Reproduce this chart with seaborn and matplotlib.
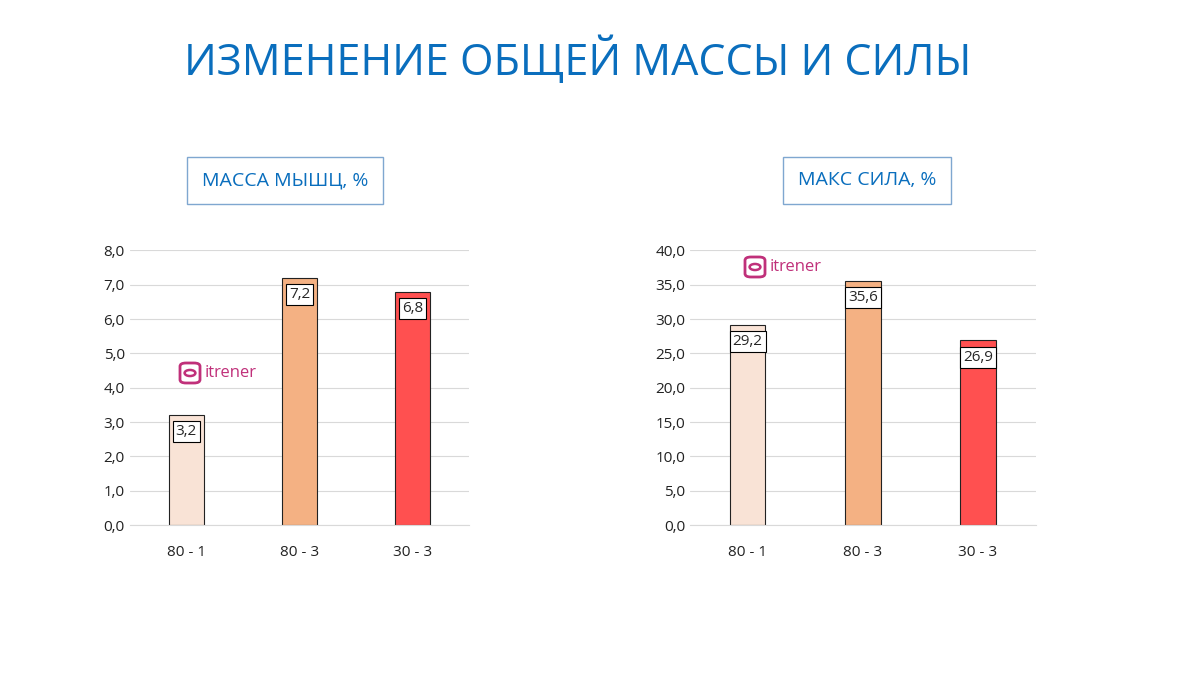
import matplotlib
matplotlib.use("Agg")
import matplotlib.pyplot as plt
import seaborn as sns
import pandas as pd
from matplotlib.ticker import FuncFormatter
from matplotlib.patches import FancyBboxPatch, Circle

groups = ["80 - 1", "80 - 3", "30 - 3"]
mass_values = [3.2, 7.2, 6.8]
strength_values = [29.2, 35.6, 26.9]
colors = ["#F9E3D6", "#F4B183", "#FF5050"]

TITLE = "ИЗМЕНЕНИЕ ОБЩЕЙ МАССЫ И СИЛЫ"
BLUE = "#0A6EBD"

sns.set_style("white")
plt.rcParams["font.family"] = "Open Sans"

fig = plt.figure(figsize=(12, 6.75), dpi=100)
fig.text(0.481, 0.908, TITLE, ha="center", va="center", fontsize=31, color=BLUE)

comma = FuncFormatter(lambda v, _: f"{v:.1f}".replace(".", ","))


def insta(x_px, y_px):
    # small instagram-like icon drawn as shapes, then the handle text
    w, h = 20 / 1200, 20 / 675
    x0, y0 = x_px / 1200, 1 - y_px / 675
    fig.patches.append(FancyBboxPatch((x0, y0 - h / 2), w, h, boxstyle="round,pad=0,rounding_size=0.005",
                                      transform=fig.transFigure, fc="none", ec="#C0307A", lw=2))
    fig.patches.append(Circle((x0 + w / 2, y0), 0.0045, transform=fig.transFigure,
                              fc="none", ec="#C0307A", lw=1.8))
    fig.text(x0 + w + 0.004, y0, "itrener", ha="left", va="center", fontsize=12, color="#C0307A")


def draw(rect, values, ymax, step, box_title, box_x):
    ax = fig.add_axes(rect)
    df = pd.DataFrame({"group": groups, "value": values})
    sns.barplot(data=df, x="group", y="value", hue="group", palette=colors, saturation=1,
                width=0.31, edgecolor="#222222", linewidth=0.8, legend=False, ax=ax)
    ax.set_ylim(0, ymax)
    ax.set_xlim(-0.5, 2.5)
    ax.set_yticks([i * step for i in range(int(round(ymax / step)) + 1)])
    ax.yaxis.set_major_formatter(comma)
    ax.grid(axis="y", color="#D9D9D9", linewidth=0.8)
    ax.set_axisbelow(True)
    for s in ["top", "right", "left"]:
        ax.spines[s].set_visible(False)
    ax.spines["bottom"].set_color("#D9D9D9")
    ax.tick_params(axis="both", length=0, labelsize=11, colors="#222222")
    ax.tick_params(axis="x", pad=14)
    ax.set_xlabel("")
    ax.set_ylabel("")
    for i, v in enumerate(values):
        ax.annotate(f"{v:.1f}".replace(".", ","), (i, v), xytext=(0, -12),
                    textcoords="offset points", ha="center", va="center", fontsize=11,
                    bbox=dict(boxstyle="square,pad=0.2", fc="white", ec="black", lw=0.8))
    fig.text(box_x, 0.733, box_title, ha="center", va="center", fontsize=14, color=BLUE,
             bbox=dict(boxstyle="square,pad=0.75", fc="white", ec="#7FA7D0", lw=1))
    return ax


draw([0.108, 0.222, 0.283, 0.407], mass_values, 8.0, 1.0, "МАССА МЫШЦ, %", 0.2375)
draw([0.575, 0.222, 0.288, 0.407], strength_values, 40.0, 5.0, "МАКС СИЛА, %", 0.7225)
insta(180, 373)
insta(745, 267)

fig.savefig("out.png", dpi=100)
